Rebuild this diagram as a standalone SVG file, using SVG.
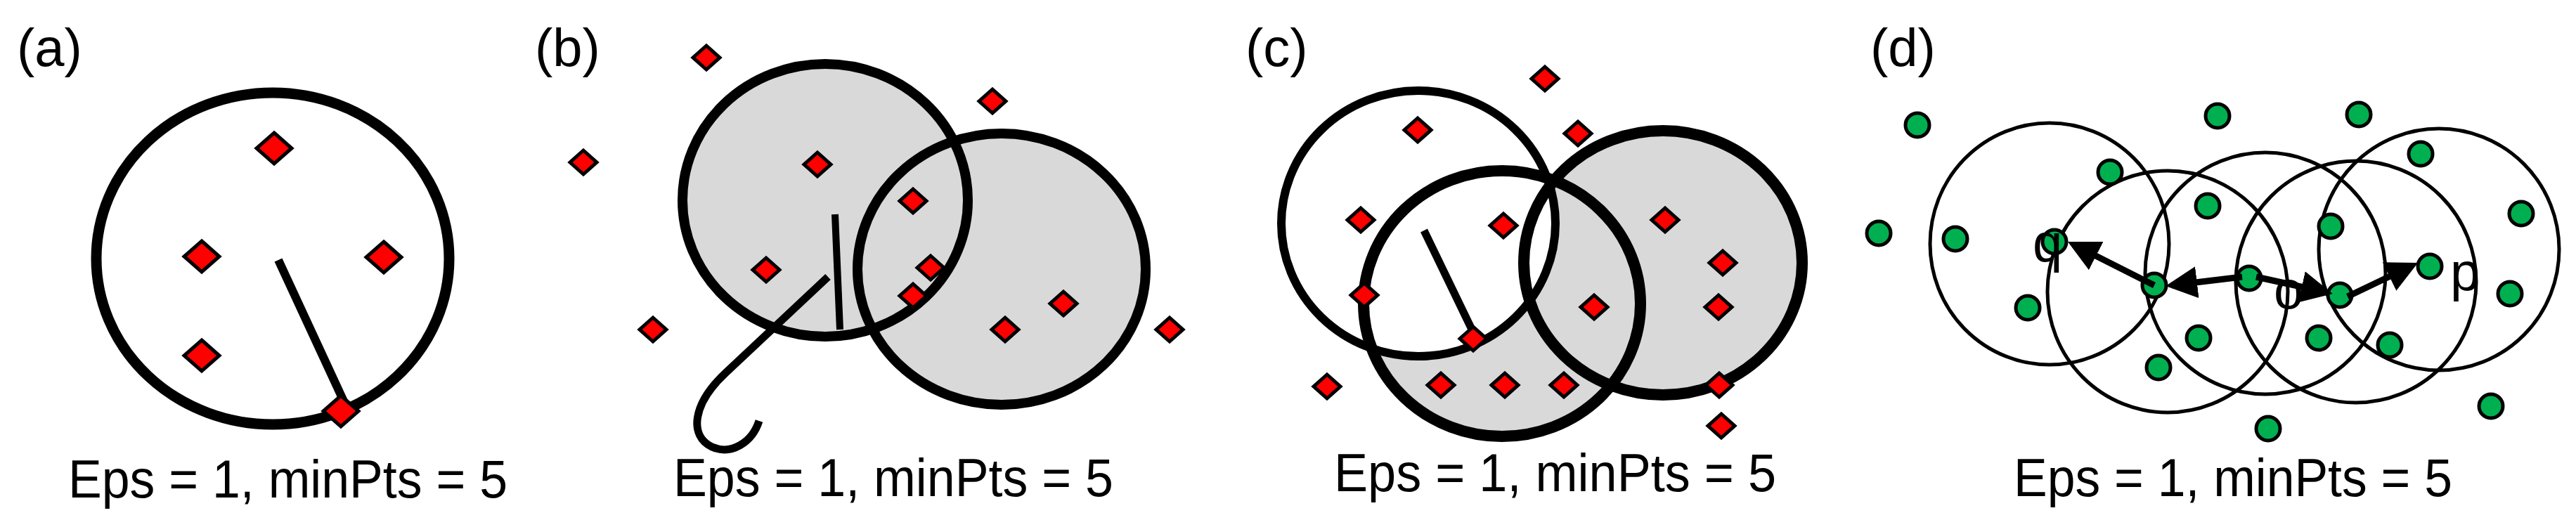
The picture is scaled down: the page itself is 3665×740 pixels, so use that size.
<svg xmlns="http://www.w3.org/2000/svg" width="3665" height="740" viewBox="0 0 3665 740">
<style>
.t{font-family:"Liberation Sans",Arial,sans-serif;font-size:76px;fill:#000}
.dm{fill:#ff0000;stroke:#000;stroke-width:5}
.g{fill:#00b050;stroke:#000;stroke-width:5}
.thin{fill:none;stroke:#000;stroke-width:5}
</style>
<defs>
<path id="dA" d="M0,-22 L25,0 L0,22 L-25,0 Z"/>
<path id="dS" d="M0,-17 L19,0 L0,17 L-19,0 Z"/>
<marker id="ah" viewBox="0 0 10 10" refX="8" refY="5" markerWidth="5" markerHeight="5" orient="auto" markerUnits="strokeWidth">
<path d="M0,0 L10,5 L0,10 Z" fill="#000"/>
</marker>
</defs>
<rect width="3665" height="740" fill="#fff"/>
<g id="panel-a">
<text class="t" x="24" y="94">(a)</text>
<ellipse cx="388" cy="368" rx="251" ry="236" fill="#fff" stroke="#000" stroke-width="15"/>
<line x1="396" y1="370" x2="490" y2="573" stroke="#000" stroke-width="12"/>
<use href="#dA" class="dm" x="390" y="211"/>
<use href="#dA" class="dm" x="287" y="365"/>
<use href="#dA" class="dm" x="546" y="366"/>
<use href="#dA" class="dm" x="287" y="506"/>
<use href="#dA" class="dm" x="485" y="585"/>
<text class="t" x="97" y="708" textLength="625" lengthAdjust="spacingAndGlyphs">Eps = 1, minPts = 5</text>
</g>
<g id="panel-b">
<text class="t" x="761" y="94">(b)</text>
<ellipse cx="1174" cy="285" rx="203" ry="194" fill="#d9d9d9"/>
<ellipse cx="1425" cy="383" rx="205" ry="193" fill="#d9d9d9"/>
<ellipse cx="1174" cy="285" rx="203" ry="194" fill="none" stroke="#000" stroke-width="14"/>
<ellipse cx="1425" cy="383" rx="205" ry="193" fill="none" stroke="#000" stroke-width="14"/>
<line x1="1188" y1="305" x2="1195" y2="469" stroke="#000" stroke-width="10"/>
<path d="M1178,394 L1032,531 C985,575 980,620 1013,636 C1040,648 1070,630 1080,599" fill="none" stroke="#000" stroke-width="11"/>
<use href="#dS" class="dm" x="1005" y="82"/>
<use href="#dS" class="dm" x="1412" y="144"/>
<use href="#dS" class="dm" x="830" y="231"/>
<use href="#dS" class="dm" x="1163" y="234"/>
<use href="#dS" class="dm" x="1299" y="286"/>
<use href="#dS" class="dm" x="1090" y="384"/>
<use href="#dS" class="dm" x="1324" y="381"/>
<use href="#dS" class="dm" x="1299" y="421"/>
<use href="#dS" class="dm" x="929" y="469"/>
<use href="#dS" class="dm" x="1513" y="432"/>
<use href="#dS" class="dm" x="1430" y="469"/>
<use href="#dS" class="dm" x="1664" y="469"/>
<text class="t" x="958" y="706" textLength="626" lengthAdjust="spacingAndGlyphs">Eps = 1, minPts = 5</text>
</g>
<g id="panel-c">
<text class="t" x="1772" y="94">(c)</text>
<ellipse cx="2137" cy="432" rx="197" ry="189" fill="#d9d9d9"/>
<ellipse cx="2366" cy="374" rx="198" ry="188" fill="#d9d9d9"/>
<ellipse cx="2018" cy="318" rx="195" ry="189" fill="#fff"/>
<ellipse cx="2018" cy="318" rx="195" ry="189" fill="none" stroke="#000" stroke-width="12"/>
<ellipse cx="2137" cy="432" rx="197" ry="189" fill="none" stroke="#000" stroke-width="16"/>
<ellipse cx="2366" cy="374" rx="198" ry="188" fill="none" stroke="#000" stroke-width="16"/>
<line x1="2026" y1="328" x2="2098" y2="477" stroke="#000" stroke-width="11"/>
<use href="#dS" class="dm" x="2198" y="112"/>
<use href="#dS" class="dm" x="2245" y="190"/>
<use href="#dS" class="dm" x="2017" y="185"/>
<use href="#dS" class="dm" x="1936" y="313"/>
<use href="#dS" class="dm" x="2139" y="321"/>
<use href="#dS" class="dm" x="2369" y="313"/>
<use href="#dS" class="dm" x="2451" y="374"/>
<use href="#dS" class="dm" x="2268" y="437"/>
<use href="#dS" class="dm" x="2445" y="437"/>
<use href="#dS" class="dm" x="1941" y="420"/>
<use href="#dS" class="dm" x="2096" y="482"/>
<use href="#dS" class="dm" x="1888" y="550"/>
<use href="#dS" class="dm" x="2050" y="548"/>
<use href="#dS" class="dm" x="2141" y="548"/>
<use href="#dS" class="dm" x="2225" y="548"/>
<use href="#dS" class="dm" x="2446" y="548"/>
<use href="#dS" class="dm" x="2449" y="606"/>
<text class="t" x="1898" y="699" textLength="629" lengthAdjust="spacingAndGlyphs">Eps = 1, minPts = 5</text>
</g>
<g id="panel-d">
<text class="t" x="2661" y="94">(d)</text>
<ellipse class="thin" cx="2916" cy="347" rx="170" ry="172"/>
<ellipse class="thin" cx="3084" cy="415" rx="171" ry="172"/>
<ellipse class="thin" cx="3223" cy="389" rx="171" ry="172"/>
<ellipse class="thin" cx="3352" cy="401" rx="171" ry="172"/>
<ellipse class="thin" cx="3470" cy="355" rx="171" ry="172"/>
<g id="points">
<circle class="g" cx="2728" cy="178" r="17"/>
<circle class="g" cx="2673" cy="332" r="17"/>
<circle class="g" cx="2782" cy="340" r="17"/>
<circle class="g" cx="3002" cy="245" r="17"/>
<circle class="g" cx="3155" cy="165" r="17"/>
<circle class="g" cx="3356" cy="163" r="17"/>
<circle class="g" cx="3444" cy="219" r="17"/>
<circle class="g" cx="3587" cy="304" r="17"/>
<circle class="g" cx="3141" cy="293" r="17"/>
<circle class="g" cx="3316" cy="322" r="17"/>
<circle class="g" cx="2923" cy="344" r="17"/>
<circle class="g" cx="2885" cy="438" r="17"/>
<circle class="g" cx="3065" cy="406" r="17"/>
<circle class="g" cx="3200" cy="396" r="17"/>
<circle class="g" cx="3329" cy="420" r="17"/>
<circle class="g" cx="3457" cy="379" r="17"/>
<circle class="g" cx="3571" cy="418" r="17"/>
<circle class="g" cx="3128" cy="481" r="17"/>
<circle class="g" cx="3071" cy="523" r="17"/>
<circle class="g" cx="3299" cy="481" r="17"/>
<circle class="g" cx="3400" cy="491" r="17"/>
<circle class="g" cx="3227" cy="610" r="17"/>
<circle class="g" cx="3544" cy="578" r="17"/>
</g>
<g id="connectors" stroke="#000" stroke-width="9" marker-end="url(#ah)">
<line x1="3065" y1="406" x2="2950" y2="348"/>
<line x1="3190" y1="394" x2="3090" y2="406"/>
<line x1="3210" y1="394" x2="3310" y2="416"/>
<line x1="3340" y1="422" x2="3432" y2="378"/>
</g>
<text class="t" x="2892" y="372">q</text>
<text class="t" x="3235" y="439">o</text>
<text class="t" x="3486" y="413">p</text>
<text class="t" x="2865" y="706" textLength="624" lengthAdjust="spacingAndGlyphs">Eps = 1, minPts = 5</text>
</g>
</svg>
